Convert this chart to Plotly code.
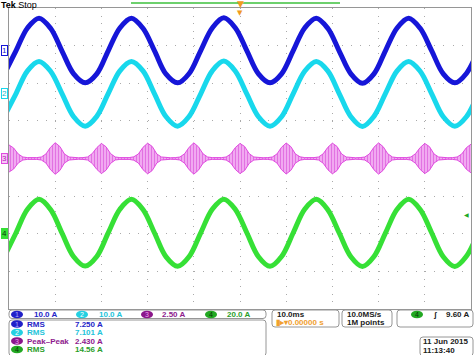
import plotly.graph_objects as go

W, H = 474, 355

# ---------------- data ----------------
# sine channels sampled every 2.5 ms (ms relative to trigger)
t_ms = [-51.0, -48.5, -46.0, -43.5, -41.0, -38.5, -36.0, -33.5, -31.0, -28.5,
        -26.0, -23.5, -21.0, -18.5, -16.0, -13.5, -11.0, -8.5, -6.0, -3.5,
        -1.0, 1.5, 4.0, 6.5, 9.0, 11.5, 14.0, 16.5, 19.0, 21.5,
        24.0, 26.5, 29.0, 31.5, 34.0, 36.5, 39.0, 41.5, 44.0, 46.5,
        49.0, 51.5]
ch1_A = [-6.1, 0.0, 6.1, 8.7, 6.0, -0.1, -6.1, -8.5, -6.1, 0.1,
         6.1, 8.7, 6.0, 0.0, -6.2, -8.5, -6.0, 0.1, 6.1, 8.8,
         6.1, 0.0, -6.1, -8.5, -6.1, 0.0, 6.1, 8.7, 6.0, -0.1,
         -6.1, -8.6, -6.1, 0.1, 6.1, 8.7, 6.0, 0.0, -6.1, -8.5,
         -6.0, 0.1]
ch2_A = [-6.0, 0.0, 6.1, 8.6, 6.0, 0.0, -6.1, -8.6, -6.0, 0.1,
         6.1, 8.6, 6.1, 0.0, -6.1, -8.6, -6.0, 0.0, 6.1, 8.7,
         6.0, -0.1, -6.1, -8.6, -6.1, 0.0, 6.0, 8.6, 6.1, 0.0,
         -6.1, -8.7, -6.0, 0.1, 6.1, 8.6, 6.0, 0.0, -6.1, -8.6,
         -6.1, 0.0]
ch4_A = [-12.5, 0.0, 12.6, 17.9, 12.5, -0.2, -12.6, -17.6, -12.5, 0.2,
         12.6, 17.9, 12.5, 0.0, -12.7, -17.7, -12.5, 0.1, 12.6, 18.0,
         12.5, 0.0, -12.6, -17.7, -12.5, 0.0, 12.6, 17.9, 12.4, -0.1,
         -12.6, -17.8, -12.5, 0.1, 12.6, 17.9, 12.5, 0.0, -12.6, -17.8,
         -12.4, 0.1]

# channel 3: envelope of the burst oscillation, sampled every 1 ms
t3_ms = list(range(-50, 51))
ch3_env_A = [0.90, 0.70, 0.30, 0.10, 0.06, 0.05, 0.06, 0.10, 0.30, 0.75,
             1.05, 0.80, 0.30, 0.10, 0.06, 0.05, 0.06, 0.10, 0.32, 0.72,
             1.00, 0.78, 0.32, 0.10, 0.06, 0.05, 0.06, 0.11, 0.30, 0.74,
             1.02, 0.80, 0.30, 0.10, 0.06, 0.05, 0.06, 0.10, 0.31, 0.75,
             1.04, 0.78, 0.31, 0.10, 0.06, 0.05, 0.06, 0.10, 0.30, 0.73,
             1.00, 0.80, 0.32, 0.10, 0.06, 0.05, 0.06, 0.10, 0.30, 0.75,
             1.03, 0.79, 0.30, 0.11, 0.06, 0.05, 0.06, 0.10, 0.31, 0.74,
             1.02, 0.80, 0.30, 0.10, 0.06, 0.05, 0.06, 0.10, 0.30, 0.75,
             1.04, 0.78, 0.31, 0.10, 0.06, 0.05, 0.06, 0.10, 0.32, 0.73,
             1.00, 0.79, 0.30, 0.10, 0.06, 0.05, 0.06, 0.10, 0.30, 0.72,
             0.95]

channels = ["1", "2", "3", "4"]
ch_scale_A = [10.0, 10.0, 2.5, 20.0]          # A / div
ch_scale_text = ["10.0 A", "10.0 A", "2.50 A", "20.0 A"]
ch_pos_div = [2.86, 1.72, 0.0, -1.98]           # vertical position (div)
meas_names = ["RMS", "RMS", "Peak\u2013Peak", "RMS"]
meas_values = ["7.250 A", "7.101 A", "2.430 A", "14.56 A"]
timebase_text = "10.0ms"
delay_text = "0.00000 s"
samplerate_text = "10.0MS/s"
record_text = "1M points"
trigger_level_A = 9.6
trigger_level_text = "9.60 A"
date_text = "11 Jun 2015"
time_text = "11:13:40"

# ---------------- styling ----------------
trace_col = ["#1616d8", "#18d8ec", "#e04ae0", "#36e036"]
label_col = ["#2424c8", "#22c4da", "#8e1a8e", "#2a9e2a"]
badge_fill = ["#2020c8", "#24d0e2", "#8a168a", "#22a822"]
badge_txt = ["#a8a8ff", "#ffffff", "#f0a0f0", "#063806"]
FONT = "Liberation Sans"

GX0, GX1, GY0, GY1 = 9, 471, 8, 309   # graticule in px


def px(x):
    return x / W


def py(y):
    return 1 - y / H


YDOM = [py(GY1), py(GY0)]

# channel -> y axis id ; channel 3 sits at centre and carries the graticule
axis_ids = ["y2", "y3", "y", "y4"]

fig = go.Figure()

# channel 3 bursts: lower and upper envelope filled with vertical stripes
fig.add_trace(go.Scatter(x=t3_ms, y=[-v for v in ch3_env_A], mode="lines",
                         yaxis="y", line=dict(color=trace_col[2], width=1),
                         hoverinfo="skip", showlegend=False))
fig.add_trace(go.Scatter(x=t3_ms, y=ch3_env_A, mode="lines", yaxis="y",
                         line=dict(color=trace_col[2], width=1),
                         fill="tonexty", fillcolor="rgba(242,160,242,1)",
                         fillpattern=dict(shape="|", size=3, solidity=0.45,
                                          fgcolor="#d030d0", bgcolor="#f4b4f4"),
                         hoverinfo="skip", showlegend=False))

# sine traces
for i, vals in [(0, ch1_A), (1, ch2_A), (3, ch4_A)]:
    fig.add_trace(go.Scatter(x=t_ms, y=vals, mode="lines", yaxis=axis_ids[i],
                             line=dict(color=trace_col[i], width=5, shape="spline"),
                             hoverinfo="skip", showlegend=False))

grid_col = "rgb(170,170,170)"
s3 = ch_scale_A[2]
fig.update_layout(
    width=W, height=H, margin=dict(l=0, r=0, t=0, b=0, pad=0),
    paper_bgcolor="white", plot_bgcolor="white", showlegend=False,
    xaxis=dict(range=[-50, 50], domain=[px(GX0), px(GX1)], dtick=10, tick0=0,
               showgrid=True, gridcolor=grid_col, gridwidth=1,
               griddash="1px,6.52px", zeroline=False, showticklabels=False,
               ticks="", showline=True, mirror=True, linecolor="rgb(150,150,150)",
               linewidth=1, fixedrange=True),
    yaxis=dict(range=[-4 * s3, 4 * s3], domain=YDOM, dtick=s3, tick0=0,
               showgrid=True, gridcolor=grid_col, gridwidth=1,
               griddash="1px,8.24px", zeroline=False, showticklabels=False,
               ticks="", showline=True, mirror=True, linecolor="rgb(150,150,150)",
               linewidth=1, fixedrange=True),
)
for i, aid in enumerate(axis_ids):
    if aid == "y":
        continue
    s, p = ch_scale_A[i], ch_pos_div[i]
    fig.layout["yaxis" + aid[1:]] = dict(
        overlaying="y", anchor="x", domain=YDOM,
        range=[(-4 - p) * s, (4 - p) * s], showgrid=False, zeroline=False,
        showline=False, showticklabels=False, ticks="", fixedrange=True)

ann = []
shapes = []

# channel ground markers on the left edge
mk_bg = ["#ffffff", "#ffffff", "#f6c8f6", trace_col[3]]
mk_txt = [trace_col[0], "#10b8cc", "#b020b0", "#0a3a0a"]
for i, aid in enumerate(axis_ids):
    ann.append(dict(xref="paper", yref=aid, x=px(0.5), y=0, xanchor="left",
                    yanchor="middle", text=channels[i], showarrow=False,
                    font=dict(family=FONT, size=8, color=mk_txt[i]),
                    bgcolor=mk_bg[i], bordercolor=trace_col[i], borderwidth=1,
                    borderpad=0))

# top text
ann.append(dict(xref="paper", yref="paper", x=px(-1), y=py(5), xanchor="left",
                yanchor="middle", text="<b>Tek</b> Stop", showarrow=False,
                font=dict(family=FONT, size=9, color="black")))
shapes.append(dict(type="line", xref="paper", yref="paper", x0=px(131), x1=px(340),
                   y0=py(3), y1=py(3), line=dict(color="#3cc03c", width=1.5)))
ann.append(dict(xref="x", yref="paper", x=0, y=py(4), xanchor="center",
                yanchor="middle", text="\u25bc", showarrow=False,
                font=dict(family="DejaVu Sans", size=9, color="#f09a20")))
ann.append(dict(xref="x", yref="paper", x=0, y=py(13), xanchor="center",
                yanchor="middle", text="\u25bc", showarrow=False,
                font=dict(family="DejaVu Sans", size=7, color="#f09a20")))
# trigger level marker (right edge)
ann.append(dict(xref="paper", yref="y4", x=px(471), y=trigger_level_A, xanchor="right",
                yanchor="middle", text="\u25c0", showarrow=False,
                font=dict(family="DejaVu Sans", size=6, color="#22a822")))


def rbox(x0, y0, x1, y1, r=3, fill="white", line="rgb(150,150,150)"):
    a0, a1 = px(x0), px(x1)
    b0, b1 = py(y0), py(y1)
    rx, ry = r / W, r / H
    path = (f"M{a0+rx},{b0} L{a1-rx},{b0} Q{a1},{b0} {a1},{b0-ry} "
            f"L{a1},{b1+ry} Q{a1},{b1} {a1-rx},{b1} L{a0+rx},{b1} "
            f"Q{a0},{b1} {a0},{b1+ry} L{a0},{b0-ry} Q{a0},{b0} {a0+rx},{b0} Z")
    shapes.append(dict(type="path", xref="paper", yref="paper", path=path,
                       fillcolor=fill, line=dict(color=line, width=1), layer="below"))


# bottom boxes
rbox(9, 310, 266, 318.5)
rbox(9, 320, 266, 356)
rbox(272, 310, 339, 327)
rbox(342, 310, 392, 327)
rbox(397, 310, 473, 327)
rbox(420, 337, 473, 356)

bx = [17, 82, 147, 211]
vx = [32, 97, 160, 225]


def badge(x, y, i):
    shapes.append(dict(type="circle", xref="paper", yref="paper",
                       x0=px(x - 6), x1=px(x + 6), y0=py(y - 3.8), y1=py(y + 3.8),
                       fillcolor=badge_fill[i], line=dict(width=0)))
    ann.append(dict(xref="paper", yref="paper", x=px(x), y=py(y), xanchor="center",
                    yanchor="middle", text=channels[i], showarrow=False,
                    font=dict(family=FONT, size=7, color=badge_txt[i])))


for i in range(4):
    badge(bx[i], 314.5, i)
    ann.append(dict(xref="paper", yref="paper", x=px(vx[i]), y=py(314.5),
                    xanchor="left", yanchor="middle", text="<b>" + ch_scale_text[i] + "</b>",
                    showarrow=False, font=dict(family=FONT, size=8, color=label_col[i])))

row_y = [324, 332.5, 341, 349.5]
for i in range(4):
    badge(17, row_y[i], i)
    ann.append(dict(xref="paper", yref="paper", x=px(25), y=py(row_y[i]),
                    xanchor="left", yanchor="middle", text="<b>" + meas_names[i] + "</b>",
                    showarrow=False, font=dict(family=FONT, size=8, color=label_col[i])))
    ann.append(dict(xref="paper", yref="paper", x=px(73), y=py(row_y[i]),
                    xanchor="left", yanchor="middle", text="<b>" + meas_values[i] + "</b>",
                    showarrow=False, font=dict(family=FONT, size=8, color=label_col[i])))


def txt(x, y, s, color="#202020", size=8, anchor="left"):
    ann.append(dict(xref="paper", yref="paper", x=px(x), y=py(y), xanchor=anchor,
                    yanchor="middle", text="<b>" + s + "</b>", showarrow=False,
                    font=dict(family=FONT, size=size, color=color)))


txt(275, 314.5, timebase_text)
txt(274, 322.5, "\u25ae\u25b8\u25be" + delay_text, color="#f0a030")
txt(345, 314.5, samplerate_text)
txt(345, 322.5, record_text)
badge(417, 314.5, 3)
txt(431, 314.5, "\u0283", size=8)
txt(471, 314.5, trigger_level_text, anchor="right")
txt(421, 341.5, date_text)
txt(421, 350, time_text)

fig.update_layout(annotations=ann, shapes=shapes)
fig.write_html("out.html", config={"displayModeBar": False},
               post_script="document.body.style.margin='0px';")
